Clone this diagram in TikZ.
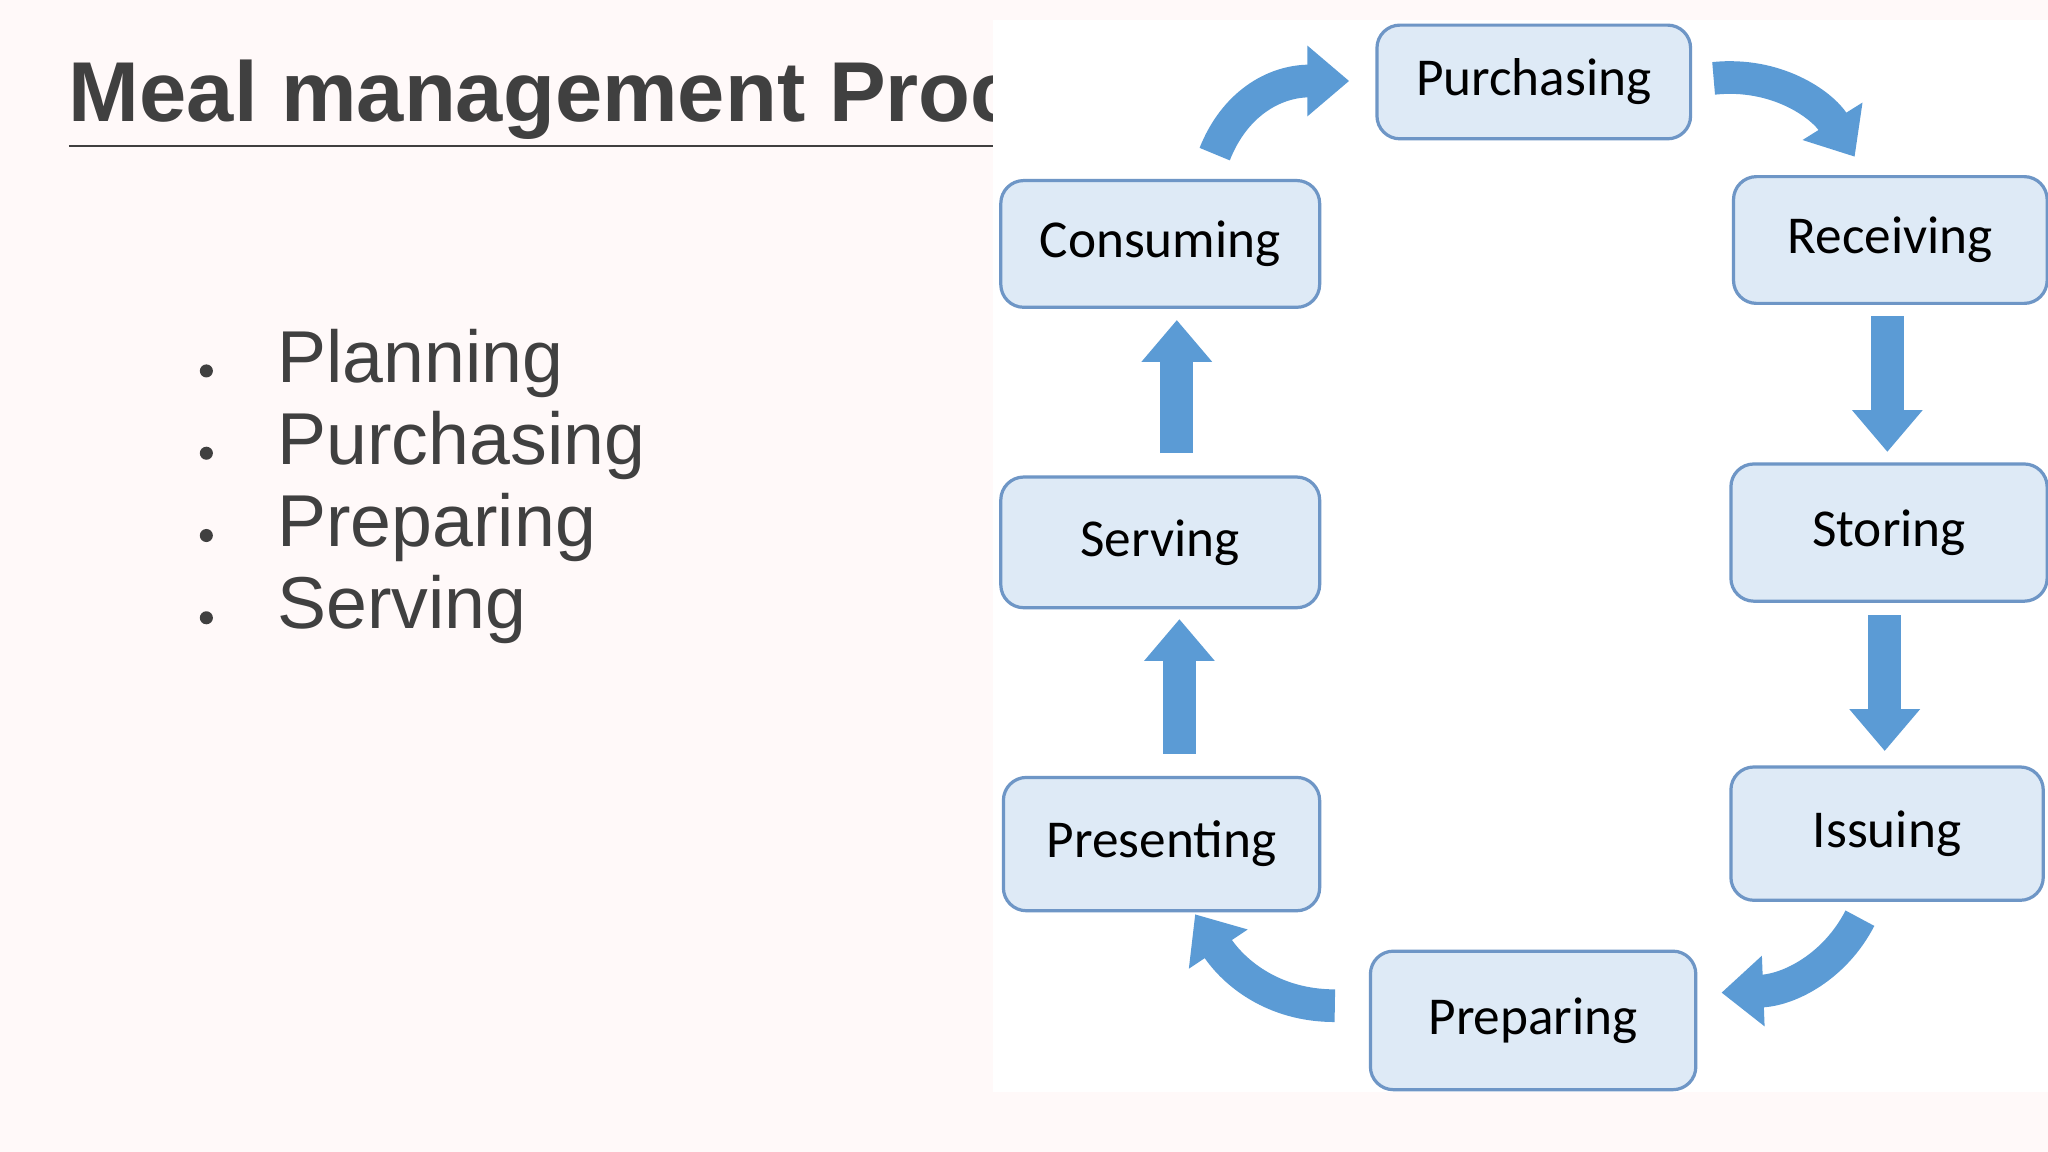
\documentclass[tikz,border=0pt]{standalone}
\usepackage{fontspec}
\setmainfont{Liberation Sans}
\newfontfamily\boxfont{Carlito}
\usetikzlibrary{arrows.meta}
\definecolor{bg}{HTML}{FFF9F9}
\definecolor{boxfill}{HTML}{DEEAF6}
\definecolor{boxline}{HTML}{6E96C6}
\definecolor{arr}{HTML}{5B9BD5}
\definecolor{txt}{HTML}{404040}
\begin{document}
\begin{tikzpicture}[x=0.01cm,y=-0.01cm,
  stage/.style={draw=boxline,line width=0.7pt,fill=boxfill,rounded corners=5pt,anchor=north west,inner sep=0pt,font=\boxfont\fontsize{11.6}{13}\selectfont,text=black},
  blk/.style={draw=arr,line width=0.25cm,-{Triangle[length=0.32cm,width=0.52cm]}},
  bul/.style={anchor=west,font=\fontsize{16}{19}\selectfont,text=txt}]
\useasboundingbox (0,0) rectangle (1568,882);
\fill[bg] (0,0) rectangle (1568,882);
\node[anchor=base west,font=\bfseries\fontsize{18.5}{22}\selectfont,text=txt,inner sep=0pt] (title) at (52,93) {\underline{Meal management Process}};
\fill[white] (760,15) rectangle (1568,836);
\foreach \y/\t [count=\i] in {278/Planning,341/Purchasing,404/Preparing,467/Serving}{
  \node[bul] (b\i) at (200,\y) {\t};
  \fill[txt] (158,\y+6) circle (5);
}
\node[stage,minimum width=2.40cm,minimum height=0.87cm] (pur) at (1053,18) {Purchasing};
\node[stage,minimum width=2.40cm,minimum height=0.97cm] (rec) at (1326,134) {Receiving};
\node[stage,minimum width=2.44cm,minimum height=0.97cm] (con) at (765,137) {Consuming};
\node[stage,minimum width=2.42cm,minimum height=1.05cm] (sto) at (1324,354) {Storing};
\node[stage,minimum width=2.44cm,minimum height=1.00cm] (ser) at (765,364) {Serving};
\node[stage,minimum width=2.39cm,minimum height=1.02cm] (iss) at (1324,586) {Issuing};
\node[stage,minimum width=2.42cm,minimum height=1.02cm] (pre) at (767,594) {Presenting};
\node[stage,minimum width=2.49cm,minimum height=1.06cm] (prp) at (1048,727) {Preparing};
\coordinate (a1) at (1445,242); \coordinate (a1e) at (1445,346);
\coordinate (a2) at (1443,471); \coordinate (a2e) at (1443,575);
\coordinate (a3) at (901,347); \coordinate (a3e) at (901,245);
\coordinate (a4) at (903,577); \coordinate (a4e) at (903,474);
\draw[blk] (a1) -- (a1e);
\draw[blk] (a2) -- (a2e);
\draw[blk] (a3) -- (a3e);
\draw[blk] (a4) -- (a4e);
\coordinate (c1) at (930,118); \coordinate (c1e) at (1033,62);
\coordinate (c2) at (1312,60); \coordinate (c2e) at (1420,120);
\coordinate (c3) at (1424,703); \coordinate (c3e) at (1318,760);
\coordinate (c4) at (1022,770); \coordinate (c4e) at (915,700);
\draw[blk] (c1) .. controls (945,80) and (975,62) .. (c1e);
\draw[blk] (c2) .. controls (1360,55) and (1395,80) .. (c2e);
\draw[blk] (c3) .. controls (1405,740) and (1370,758) .. (c3e);
\draw[blk] (c4) .. controls (975,770) and (945,745) .. (c4e);
\end{tikzpicture}
\end{document}
